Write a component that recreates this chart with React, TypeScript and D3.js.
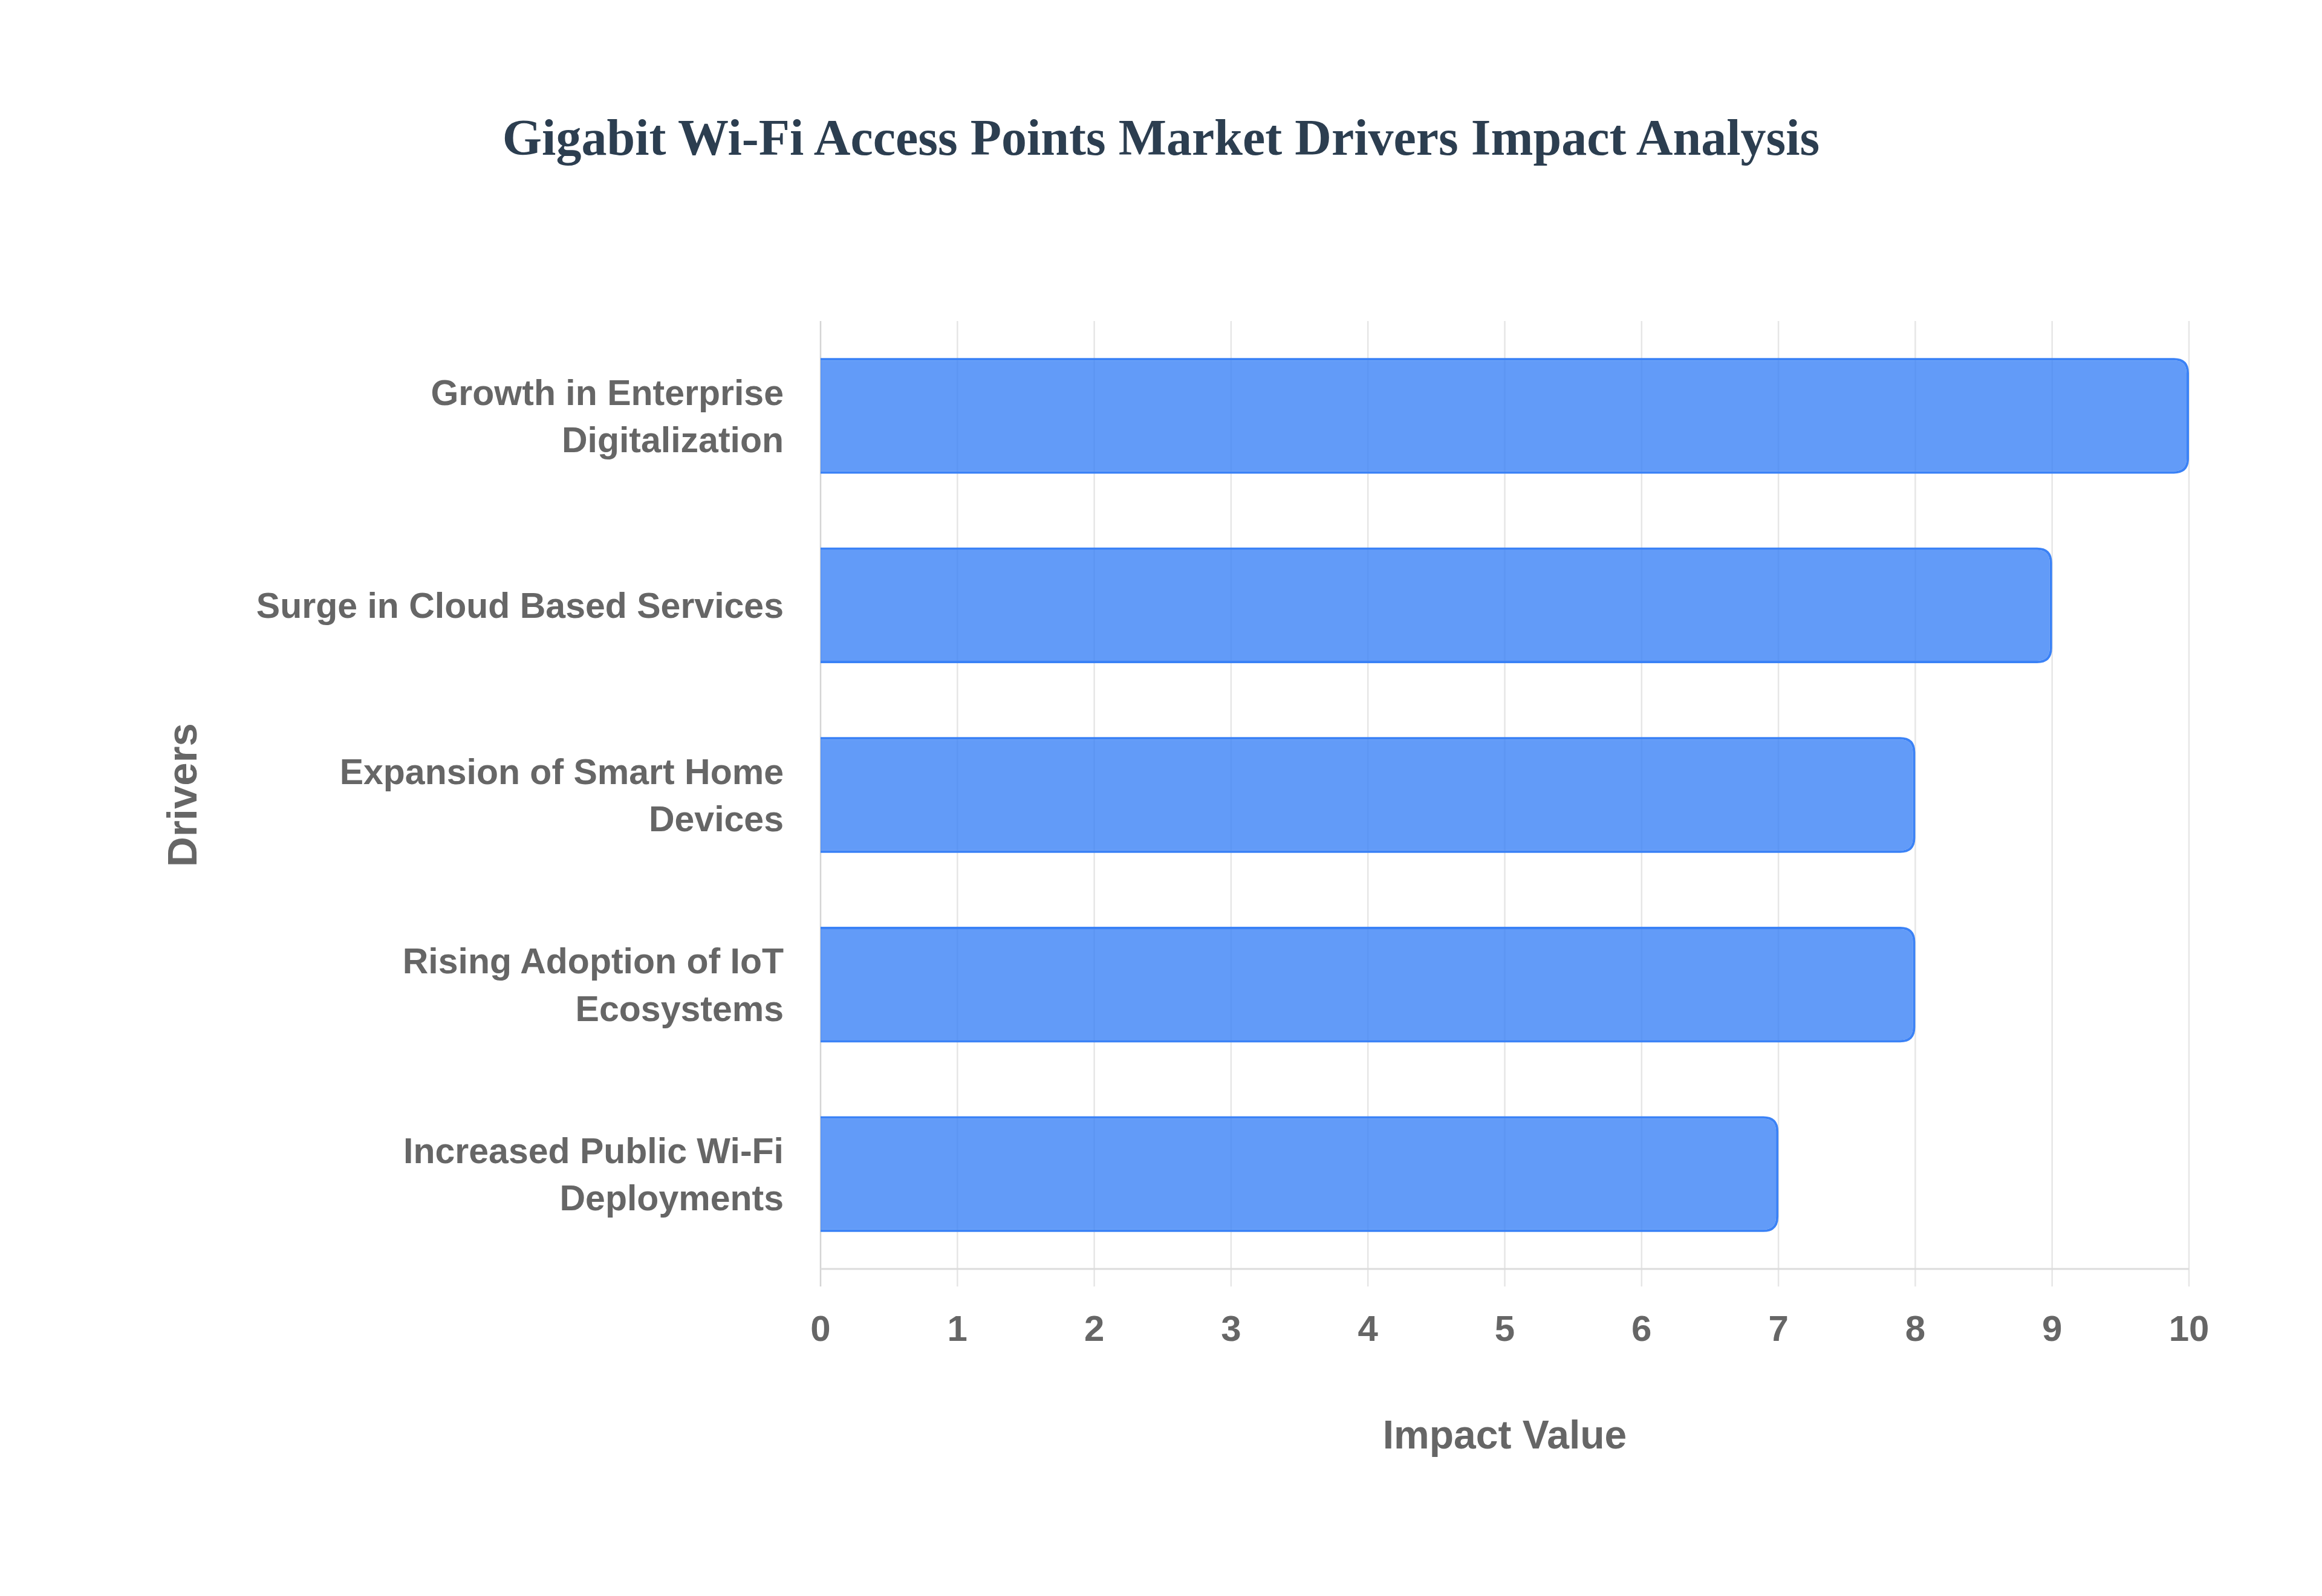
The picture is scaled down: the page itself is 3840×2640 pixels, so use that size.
import React from "react";
import * as d3 from "d3";

const drivers = [
  "Growth in Enterprise Digitalization",
  "Surge in Cloud Based Services",
  "Expansion of Smart Home Devices",
  "Rising Adoption of IoT Ecosystems",
  "Increased Public Wi-Fi Deployments",
];
const driverLines = [
  ["Growth in Enterprise", "Digitalization"],
  ["Surge in Cloud Based Services"],
  ["Expansion of Smart Home", "Devices"],
  ["Rising Adoption of IoT", "Ecosystems"],
  ["Increased Public Wi-Fi", "Deployments"],
];
const impactValues = [10, 9, 8, 8, 7];
const xTicks = [0, 1, 2, 3, 4, 5, 6, 7, 8, 9, 10];

const W = 3840;
const H = 2640;
const sans = "'Liberation Sans', Arial, Helvetica, sans-serif";

// right-rounded bar, square on the left (border skipped at start)
function barPath(x0: number, x1: number, y0: number, y1: number, r: number) {
  const rr = Math.max(0, Math.min(r, (y1 - y0) / 2, x1 - x0));
  return `M${x0},${y0} L${x1 - rr},${y0} Q${x1},${y0} ${x1},${y0 + rr} L${x1},${y1 - rr} Q${x1},${y1} ${x1 - rr},${y1} L${x0},${y1} Z`;
}

const App = () => {
  const x = d3.scaleLinear().domain([0, 10]).range([1357, 3620]);
  const y = d3
    .scaleBand<string>()
    .domain(drivers)
    .range([531, 2099])
    .paddingInner(0.39)
    .paddingOuter(0.195);
  const bw = 4;
  const radius = 25;

  return (
    <svg
      width={W}
      height={H}
      style={{ position: "absolute", left: 0, top: 0, background: "#fff" }}
    >
      <rect x={0} y={0} width={W} height={H} fill="#fff" />
      <text
        x={W / 2}
        y={256}
        textAnchor="middle"
        fontFamily="'Liberation Serif', 'Times New Roman', serif"
        fontWeight="bold"
        fontSize={84}
        fill="#2c3e50"
      >
        Gigabit Wi-Fi Access Points Market Drivers Impact Analysis
      </text>

      {/* vertical grid lines */}
      {xTicks.map((t) => (
        <line
          key={"g" + t}
          x1={x(t)}
          x2={x(t)}
          y1={531}
          y2={2128}
          stroke={t === 0 ? "#d4d4d4" : "#e6e6e6"}
          strokeWidth={2.5}
        />
      ))}
      <line x1={x(0)} x2={x(10)} y1={2099} y2={2099} stroke="#dcdcdc" strokeWidth={3} />

      {/* bars */}
      {drivers.map((d, i) => {
        const y0 = y(d)!;
        const y1 = y0 + y.bandwidth();
        const x0 = x(0);
        const x1 = x(impactValues[i]);
        const outer = barPath(x0, x1, y0, y1, radius);
        const inner = barPath(x0, x1 - bw, y0 + bw, y1 - bw, radius - bw);
        return (
          <g key={d}>
            <path d={outer + " " + inner} fill="#3b82f6" fillRule="evenodd" />
            <path d={inner} fill="rgba(59,130,246,0.8)" />
          </g>
        );
      })}

      {/* x tick labels */}
      {xTicks.map((t) => (
        <text
          key={"t" + t}
          x={x(t)}
          y={2218}
          textAnchor="middle"
          fontFamily={sans}
          fontWeight="bold"
          fontSize={60}
          fill="#666"
        >
          {t}
        </text>
      ))}

      {/* y tick labels */}
      {drivers.map((d, i) => {
        const cy = y(d)! + y.bandwidth() / 2;
        const lines = driverLines[i];
        const lh = 78.5;
        const first = cy - ((lines.length - 1) * lh) / 2 + 21;
        return (
          <text
            key={"l" + d}
            textAnchor="end"
            fontFamily={sans}
            fontWeight="bold"
            fontSize={59}
            fill="#666"
          >
            {lines.map((ln, k) => (
              <tspan key={k} x={1296} y={first + k * lh}>
                {ln}
              </tspan>
            ))}
          </text>
        );
      })}

      <text
        x={(x(0) + x(10)) / 2}
        y={2396}
        textAnchor="middle"
        fontFamily={sans}
        fontWeight="bold"
        fontSize={66}
        fill="#666"
      >
        Impact Value
      </text>
      <text
        transform={`translate(325,${(531 + 2099) / 2}) rotate(-90)`}
        textAnchor="middle"
        fontFamily={sans}
        fontWeight="bold"
        fontSize={69}
        fill="#666"
      >
        Drivers
      </text>
    </svg>
  );
};

export default App;
